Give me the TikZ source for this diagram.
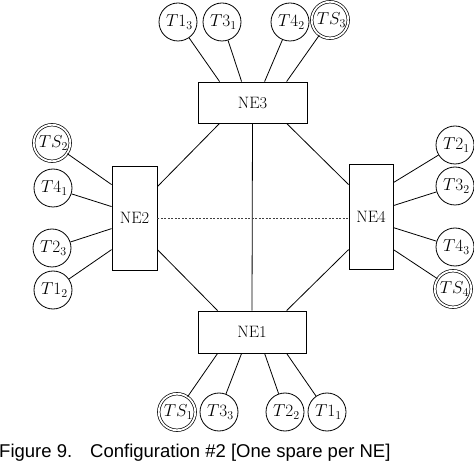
\documentclass[tikz,border=0pt]{standalone}
\usepackage{fontspec}
\newfontfamily\capfont{Liberation Sans}
\usetikzlibrary{calc}
\begin{document}
\begin{tikzpicture}[x=1pt,y=-1pt,
  lnk/.style={line width=0.8pt},
  dotlnk/.style={line width=0.5pt,black!75,dash pattern=on 2pt off 1.5pt},
  term/.style={circle,draw,line width=0.8pt,minimum size=38pt,inner sep=0pt,font=\fontsize{18.5}{22}\selectfont},
  spare/.style={circle,draw,line width=0.7pt,double,double distance=1.8pt,minimum size=36.5pt,inner sep=0pt,font=\fontsize{18.5}{22}\selectfont},
  nebox/.style={draw,line width=0.8pt,rectangle,inner sep=0pt,font=\fontsize{16.5}{20}\selectfont},
  captxt/.style={anchor=base west,inner sep=0pt,font=\capfont\fontsize{18.5}{22}\selectfont}]
\useasboundingbox (0,0) rectangle (474,462);
% NE boxes
\node[nebox,minimum width=109pt,minimum height=41pt] (ne3) at (252.5,102.5) {NE3};
\node[nebox,minimum width=108pt,minimum height=42pt] (ne1) at (252,332) {NE1};
\node[nebox,minimum width=45pt,minimum height=104pt] (ne2) at (134.5,218) {NE2};
\node[nebox,minimum width=44pt,minimum height=105pt] (ne4) at (371,216.5) {NE4};
% terminals top
\node[term] (t13) at (178,22) {\hspace*{3pt}$T1_3$};
\node[term] (t31) at (222,22) {\hspace*{3pt}$T3_1$};
\node[term] (t42) at (290,22) {\hspace*{3pt}$T4_2$};
\node[spare] (ts3) at (330,20) {\hspace*{3pt}$TS_3$};
% left
\node[spare] (ts2) at (52,143) {\hspace*{3pt}$TS_2$};
\node[term] (t41) at (53,188) {\hspace*{3pt}$T4_1$};
\node[term] (t23) at (52,248) {\hspace*{3pt}$T2_3$};
\node[term] (t12) at (53,290) {\hspace*{3pt}$T1_2$};
% right
\node[term] (t21) at (455,145) {\hspace*{3pt}$T2_1$};
\node[term] (t32) at (455,186) {\hspace*{3pt}$T3_2$};
\node[term] (t43) at (455,247) {\hspace*{3pt}$T4_3$};
\node[spare] (ts4) at (453,289) {\hspace*{3pt}$TS_4$};
% bottom
\node[spare] (ts1) at (177,412) {\hspace*{3pt}$TS_1$};
\node[term] (t33) at (219,412) {\hspace*{3pt}$T3_3$};
\node[term] (t22) at (285,412) {\hspace*{3pt}$T2_2$};
\node[term] (t11) at (327,412) {\hspace*{3pt}$T1_1$};
% terminal links
\draw[lnk] (t13) -- ($(ne3.north west)+(22,0)$);
\draw[lnk] (t31) -- ($(ne3.north west)+(44,0)$);
\draw[lnk] (t42) -- ($(ne3.north west)+(67,0)$);
\draw[lnk] (ts3) -- ($(ne3.north west)+(89,0)$);
\draw[lnk] (ts2) -- ($(ne2.north west)+(0,19)$);
\draw[lnk] (t41) -- ($(ne2.north west)+(0,41)$);
\draw[lnk] (t23) -- ($(ne2.north west)+(0,63)$);
\draw[lnk] (t12) -- ($(ne2.north west)+(0,84)$);
\draw[lnk] (t21) -- ($(ne4.north east)+(0,19)$);
\draw[lnk] (t32) -- ($(ne4.north east)+(0,42)$);
\draw[lnk] (t43) -- ($(ne4.north east)+(0,64)$);
\draw[lnk] (ts4) -- ($(ne4.north east)+(0,86)$);
\draw[lnk] (ts1) -- ($(ne1.south west)+(20,0)$);
\draw[lnk] (t33) -- ($(ne1.south west)+(44,0)$);
\draw[lnk] (t22) -- ($(ne1.south west)+(67,0)$);
\draw[lnk] (t11) -- ($(ne1.south west)+(89,0)$);
% NE interconnections
\draw[lnk] ($(ne3.south west)+(22,0)$) -- ($(ne2.north east)+(0,21)$);
\draw[lnk] ($(ne3.south west)+(89,0)$) -- ($(ne4.north west)+(0,21)$);
\draw[lnk] ($(ne2.north east)+(0,84)$) -- ($(ne1.north west)+(20,0)$);
\draw[lnk] ($(ne4.north west)+(0,86)$) -- ($(ne1.north west)+(89,0)$);
\draw[lnk] (ne3.south) -- (ne1.north);
\draw[dotlnk] (ne2.east) -- (ne2.east -| ne4.west);
% caption
\node[captxt] (cap1) at (-1,457) {Figure 9.};
\node[captxt] (cap2) at (90,457) {Configuration \#2 [One spare per NE]};
\end{tikzpicture}
\end{document}
